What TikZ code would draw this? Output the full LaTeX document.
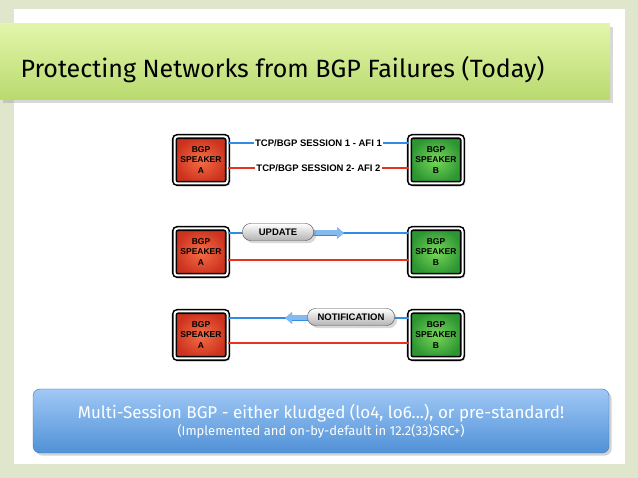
\documentclass[tikz,border=0pt]{standalone}
\usepackage{fontspec}
\setmainfont{Fira Sans}
\newfontfamily\hv{Liberation Sans}
\usetikzlibrary{shadows,arrows.meta}
\definecolor{bgg}{RGB}{224,230,204}
\definecolor{ttop}{RGB}{226,246,170}
\definecolor{tbot}{RGB}{184,218,110}
\definecolor{btop}{RGB}{160,200,245}
\definecolor{bbot}{RGB}{80,145,215}
\definecolor{lblue}{RGB}{50,140,230}
\definecolor{lred}{RGB}{230,50,30}
\definecolor{ain}{RGB}{245,110,70}
\definecolor{aout}{RGB}{205,50,30}
\definecolor{bin}{RGB}{120,215,90}
\definecolor{bout}{RGB}{45,150,50}
\tikzset{x=1pt,y=-1pt,
 spk/.style={draw=black,line width=1.6pt,rounded corners=3pt,minimum width=53pt,minimum height=47pt,
   align=center,font=\hv\bfseries\fontsize{8.5}{10.5}\selectfont,
   double=white,double distance=2pt,drop shadow={opacity=0.35}},
 spkA/.style={spk,inner color=ain,outer color=aout},
 spkB/.style={spk,inner color=bin,outer color=bout},
 bl/.style={lblue,line width=1.2pt},
 rd/.style={lred,line width=1.2pt},
 lbl/.style={fill=white,text=black,inner sep=1pt,font=\hv\bfseries\fontsize{9.5}{11}\selectfont},
 pill/.style={draw=black!70,rounded corners=8pt,top color=white,bottom color=black!30,minimum height=17pt,
   font=\hv\bfseries\fontsize{9.5}{11}\selectfont,drop shadow={opacity=0.3}},
 fat/.style={-{Triangle[length=7pt,width=11pt]},line width=5pt,draw=lblue!60,preaction={draw=lblue,line width=6.2pt}}
}
\begin{document}
\begin{tikzpicture}
\useasboundingbox (0,0) rectangle (638,478);
\fill[bgg] (0,0) rectangle (638,478);
\fill[white] (14,9) rectangle (625,464);
\shade[top color=ttop,bottom color=tbot,drop shadow={opacity=0.3}] (0,24) rectangle (610,100);
\node[anchor=west,font=\fontsize{25}{28}\selectfont] (title) at (17,70) {Protecting Networks from BGP Failures (Today)};
% rows
\foreach \r/\yc in {1/160,2/252,3/335}{
 \node[spkA] (a\r) at (201,\yc) {BGP\\SPEAKER\\A};
 \node[spkB] (b\r) at (436,\yc) {BGP\\SPEAKER\\B};
}
\draw[bl] (a1.east|-0,143) -- node[lbl]{TCP/BGP SESSION 1 - AFI 1} (b1.west|-0,143);
\draw[rd] (a1.east|-0,168) -- node[lbl]{TCP/BGP SESSION 2- AFI 2} (b1.west|-0,168);
\draw[bl] (a2.east|-0,233) -- (b2.west|-0,233);
\draw[rd] (a2.east|-0,260) -- (b2.west|-0,260);
\draw[bl] (a3.east|-0,318) -- (b3.west|-0,318);
\draw[rd] (a3.east|-0,343) -- (b3.west|-0,343);
\coordinate (u1) at (305,233); \coordinate (u2) at (344,233);
\draw[fat] (u1) -- (u2);
\node[pill,minimum width=71pt] (upd) at (278,232) {UPDATE};
\coordinate (n1) at (316,318); \coordinate (n2) at (285,318);
\draw[fat] (n1) -- (n2);
\node[pill,minimum width=87pt] (note) at (351,317) {NOTIFICATION};
\node[rounded corners=7pt,top color=btop,bottom color=bbot,draw=bbot!80!black,line width=0.4pt,
  minimum width=576pt,minimum height=64pt,align=center,text=white,drop shadow={opacity=0.35}] (msg) at (321,421)
 {{\fontsize{17}{20}\selectfont Multi-Session BGP - either kludged (lo4, lo6...), or pre-standard!}\\[1pt]
  {\fontsize{13}{16}\selectfont (Implemented and on-by-default in 12.2(33)SRC+)}};
\end{tikzpicture}
\end{document}
